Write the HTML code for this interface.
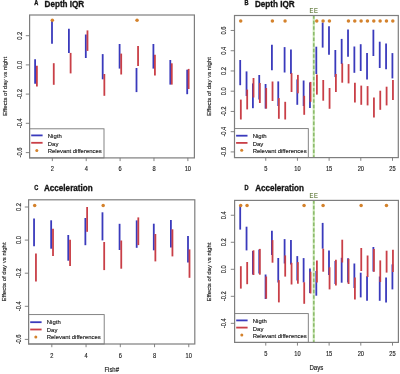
<!DOCTYPE html>
<html><head><meta charset="utf-8"><title>Figure</title>
<style>
html,body{margin:0;padding:0;background:#fff;}
body{width:400px;height:374px;overflow:hidden;}
svg{display:block;font-family:"Liberation Sans", sans-serif;filter:blur(0.3px);}
</style></head>
<body>
<svg width="400" height="374" viewBox="0 0 400 374">
<rect x="0" y="0" width="400" height="374" fill="#fff"/>
<line x1="35.10" y1="59.20" x2="35.10" y2="83.80" stroke="#3a3abc" stroke-width="1.8"/>
<line x1="36.90" y1="65.80" x2="36.90" y2="86.40" stroke="#c93f47" stroke-width="1.8"/>
<line x1="52.00" y1="21.00" x2="52.00" y2="43.80" stroke="#3a3abc" stroke-width="1.8"/>
<line x1="53.76" y1="63.20" x2="53.76" y2="84.80" stroke="#c93f47" stroke-width="1.8"/>
<line x1="68.90" y1="28.70" x2="68.90" y2="52.90" stroke="#3a3abc" stroke-width="1.8"/>
<line x1="70.62" y1="52.90" x2="70.62" y2="73.40" stroke="#c93f47" stroke-width="1.8"/>
<line x1="85.80" y1="34.50" x2="85.80" y2="58.00" stroke="#3a3abc" stroke-width="1.8"/>
<line x1="87.48" y1="30.40" x2="87.48" y2="50.90" stroke="#c93f47" stroke-width="1.8"/>
<line x1="102.70" y1="54.10" x2="102.70" y2="79.30" stroke="#3a3abc" stroke-width="1.8"/>
<line x1="104.34" y1="74.00" x2="104.34" y2="95.80" stroke="#c93f47" stroke-width="1.8"/>
<line x1="119.60" y1="44.00" x2="119.60" y2="68.60" stroke="#3a3abc" stroke-width="1.8"/>
<line x1="121.20" y1="53.60" x2="121.20" y2="74.50" stroke="#c93f47" stroke-width="1.8"/>
<line x1="136.50" y1="68.00" x2="136.50" y2="92.10" stroke="#3a3abc" stroke-width="1.8"/>
<line x1="138.06" y1="46.00" x2="138.06" y2="66.00" stroke="#c93f47" stroke-width="1.8"/>
<line x1="153.40" y1="44.00" x2="153.40" y2="68.60" stroke="#3a3abc" stroke-width="1.8"/>
<line x1="154.92" y1="54.80" x2="154.92" y2="75.60" stroke="#c93f47" stroke-width="1.8"/>
<line x1="170.30" y1="60.00" x2="170.30" y2="84.60" stroke="#3a3abc" stroke-width="1.8"/>
<line x1="171.78" y1="63.30" x2="171.78" y2="84.60" stroke="#c93f47" stroke-width="1.8"/>
<line x1="187.20" y1="69.70" x2="187.20" y2="94.20" stroke="#3a3abc" stroke-width="1.8"/>
<line x1="188.64" y1="68.90" x2="188.64" y2="89.00" stroke="#c93f47" stroke-width="1.8"/>
<circle cx="52.34" cy="20.20" r="1.75" fill="#d4822c"/>
<circle cx="137.04" cy="20.20" r="1.75" fill="#d4822c"/>
<rect x="29.60" y="128.80" width="74.40" height="29.10" fill="#fff" stroke="#777" stroke-width="0.9"/>
<line x1="31.20" y1="135.40" x2="42.60" y2="135.40" stroke="#3a3abc" stroke-width="1.8"/>
<line x1="31.20" y1="142.80" x2="42.60" y2="142.80" stroke="#c93f47" stroke-width="1.8"/>
<circle cx="36.80" cy="150.60" r="1.5" fill="#d4822c"/>
<text transform="translate(47.80 138.20) scale(0.97 1)" font-size="6.15" text-anchor="start" font-weight="normal" fill="#1a1a1a" stroke="#1a1a1a" stroke-width="0.15">Nigth</text>
<text transform="translate(47.80 145.70) scale(0.97 1)" font-size="6.15" text-anchor="start" font-weight="normal" fill="#1a1a1a" stroke="#1a1a1a" stroke-width="0.15">Day</text>
<text transform="translate(47.80 153.20) scale(0.965 1)" font-size="6.15" text-anchor="start" font-weight="normal" fill="#1a1a1a" stroke="#1a1a1a" stroke-width="0.15">Relevant differences</text>
<rect x="29.60" y="15.00" width="164.80" height="142.90" fill="none" stroke="#7e7e7e" stroke-width="1.2"/>
<line x1="25.80" y1="35.70" x2="29.60" y2="35.70" stroke="#777" stroke-width="0.9"/>
<text transform="translate(21.60 35.70) rotate(-90) scale(0.87 1)" font-size="6.6" text-anchor="middle" font-weight="normal" fill="#1a1a1a" stroke="#1a1a1a" stroke-width="0.15">0.2</text>
<line x1="25.80" y1="64.90" x2="29.60" y2="64.90" stroke="#777" stroke-width="0.9"/>
<text transform="translate(21.60 64.90) rotate(-90) scale(0.87 1)" font-size="6.6" text-anchor="middle" font-weight="normal" fill="#1a1a1a" stroke="#1a1a1a" stroke-width="0.15">0.0</text>
<line x1="25.80" y1="94.10" x2="29.60" y2="94.10" stroke="#777" stroke-width="0.9"/>
<text transform="translate(21.60 94.10) rotate(-90) scale(0.87 1)" font-size="6.6" text-anchor="middle" font-weight="normal" fill="#1a1a1a" stroke="#1a1a1a" stroke-width="0.15">-0.2</text>
<line x1="25.80" y1="123.30" x2="29.60" y2="123.30" stroke="#777" stroke-width="0.9"/>
<text transform="translate(21.60 123.30) rotate(-90) scale(0.87 1)" font-size="6.6" text-anchor="middle" font-weight="normal" fill="#1a1a1a" stroke="#1a1a1a" stroke-width="0.15">-0.4</text>
<line x1="25.80" y1="152.60" x2="29.60" y2="152.60" stroke="#777" stroke-width="0.9"/>
<text transform="translate(21.60 152.60) rotate(-90) scale(0.87 1)" font-size="6.6" text-anchor="middle" font-weight="normal" fill="#1a1a1a" stroke="#1a1a1a" stroke-width="0.15">-0.6</text>
<line x1="52.34" y1="157.90" x2="52.34" y2="161.10" stroke="#777" stroke-width="0.9"/>
<text transform="translate(52.34 171.00) scale(0.84 1)" font-size="6.8" text-anchor="middle" font-weight="normal" fill="#1a1a1a" stroke="#1a1a1a" stroke-width="0.15">2</text>
<line x1="86.22" y1="157.90" x2="86.22" y2="161.10" stroke="#777" stroke-width="0.9"/>
<text transform="translate(86.22 171.00) scale(0.84 1)" font-size="6.8" text-anchor="middle" font-weight="normal" fill="#1a1a1a" stroke="#1a1a1a" stroke-width="0.15">4</text>
<line x1="120.10" y1="157.90" x2="120.10" y2="161.10" stroke="#777" stroke-width="0.9"/>
<text transform="translate(120.10 171.00) scale(0.84 1)" font-size="6.8" text-anchor="middle" font-weight="normal" fill="#1a1a1a" stroke="#1a1a1a" stroke-width="0.15">6</text>
<line x1="153.98" y1="157.90" x2="153.98" y2="161.10" stroke="#777" stroke-width="0.9"/>
<text transform="translate(153.98 171.00) scale(0.84 1)" font-size="6.8" text-anchor="middle" font-weight="normal" fill="#1a1a1a" stroke="#1a1a1a" stroke-width="0.15">8</text>
<line x1="187.86" y1="157.90" x2="187.86" y2="161.10" stroke="#777" stroke-width="0.9"/>
<text transform="translate(187.86 171.00) scale(0.84 1)" font-size="6.8" text-anchor="middle" font-weight="normal" fill="#1a1a1a" stroke="#1a1a1a" stroke-width="0.15">10</text>
<text transform="translate(6.60 86.45) rotate(-90)" font-size="6.05" text-anchor="middle" font-weight="normal" fill="#1a1a1a" stroke="#1a1a1a" stroke-width="0.15">Effects of day vs night</text>
<text transform="translate(34.20 4.80) scale(0.85 1)" font-size="6.6" text-anchor="start" font-weight="bold" fill="#111" stroke="#111" stroke-width="0.3">A</text>
<text transform="translate(44.60 6.70) scale(0.955 1)" font-size="8.5" text-anchor="start" font-weight="bold" fill="#111" stroke="#111" stroke-width="0.3">Depth IQR</text>
<line x1="240.20" y1="60.00" x2="240.20" y2="85.20" stroke="#3a3abc" stroke-width="1.8"/>
<line x1="240.84" y1="99.60" x2="240.84" y2="119.50" stroke="#c93f47" stroke-width="1.8"/>
<line x1="246.54" y1="71.40" x2="246.54" y2="96.00" stroke="#3a3abc" stroke-width="1.8"/>
<line x1="247.18" y1="89.60" x2="247.18" y2="109.40" stroke="#c93f47" stroke-width="1.8"/>
<line x1="252.89" y1="83.40" x2="252.89" y2="108.20" stroke="#3a3abc" stroke-width="1.8"/>
<line x1="253.51" y1="78.00" x2="253.51" y2="97.50" stroke="#c93f47" stroke-width="1.8"/>
<line x1="259.23" y1="75.00" x2="259.23" y2="99.50" stroke="#3a3abc" stroke-width="1.8"/>
<line x1="259.85" y1="83.00" x2="259.85" y2="103.00" stroke="#c93f47" stroke-width="1.8"/>
<line x1="265.57" y1="84.00" x2="265.57" y2="108.60" stroke="#3a3abc" stroke-width="1.8"/>
<line x1="266.19" y1="88.00" x2="266.19" y2="108.60" stroke="#c93f47" stroke-width="1.8"/>
<line x1="271.91" y1="44.70" x2="271.91" y2="70.30" stroke="#3a3abc" stroke-width="1.8"/>
<line x1="272.52" y1="81.50" x2="272.52" y2="101.00" stroke="#c93f47" stroke-width="1.8"/>
<line x1="278.25" y1="81.40" x2="278.25" y2="106.00" stroke="#3a3abc" stroke-width="1.8"/>
<line x1="278.86" y1="98.10" x2="278.86" y2="118.80" stroke="#c93f47" stroke-width="1.8"/>
<line x1="284.60" y1="47.10" x2="284.60" y2="72.50" stroke="#3a3abc" stroke-width="1.8"/>
<line x1="285.20" y1="101.80" x2="285.20" y2="119.50" stroke="#c93f47" stroke-width="1.8"/>
<line x1="290.94" y1="49.40" x2="290.94" y2="74.00" stroke="#3a3abc" stroke-width="1.8"/>
<line x1="291.54" y1="73.10" x2="291.54" y2="92.00" stroke="#c93f47" stroke-width="1.8"/>
<line x1="297.28" y1="79.40" x2="297.28" y2="104.80" stroke="#3a3abc" stroke-width="1.8"/>
<line x1="297.88" y1="74.90" x2="297.88" y2="93.30" stroke="#c93f47" stroke-width="1.8"/>
<line x1="303.62" y1="80.50" x2="303.62" y2="106.00" stroke="#3a3abc" stroke-width="1.8"/>
<line x1="304.21" y1="95.80" x2="304.21" y2="114.80" stroke="#c93f47" stroke-width="1.8"/>
<line x1="309.96" y1="82.50" x2="309.96" y2="108.00" stroke="#3a3abc" stroke-width="1.8"/>
<line x1="310.55" y1="81.90" x2="310.55" y2="101.80" stroke="#c93f47" stroke-width="1.8"/>
<line x1="316.31" y1="46.70" x2="316.31" y2="74.00" stroke="#3a3abc" stroke-width="1.8"/>
<line x1="316.89" y1="74.50" x2="316.89" y2="94.60" stroke="#c93f47" stroke-width="1.8"/>
<line x1="322.65" y1="22.50" x2="322.65" y2="47.60" stroke="#3a3abc" stroke-width="1.8"/>
<line x1="323.23" y1="80.00" x2="323.23" y2="100.70" stroke="#c93f47" stroke-width="1.8"/>
<line x1="328.99" y1="26.30" x2="328.99" y2="54.70" stroke="#3a3abc" stroke-width="1.8"/>
<line x1="329.56" y1="88.00" x2="329.56" y2="108.80" stroke="#c93f47" stroke-width="1.8"/>
<line x1="335.33" y1="50.00" x2="335.33" y2="77.00" stroke="#3a3abc" stroke-width="1.8"/>
<line x1="335.90" y1="74.00" x2="335.90" y2="92.00" stroke="#c93f47" stroke-width="1.8"/>
<line x1="341.67" y1="38.90" x2="341.67" y2="64.00" stroke="#3a3abc" stroke-width="1.8"/>
<line x1="342.24" y1="63.40" x2="342.24" y2="82.70" stroke="#c93f47" stroke-width="1.8"/>
<line x1="348.02" y1="29.40" x2="348.02" y2="56.70" stroke="#3a3abc" stroke-width="1.8"/>
<line x1="348.57" y1="64.10" x2="348.57" y2="83.40" stroke="#c93f47" stroke-width="1.8"/>
<line x1="354.36" y1="46.50" x2="354.36" y2="72.80" stroke="#3a3abc" stroke-width="1.8"/>
<line x1="354.91" y1="82.70" x2="354.91" y2="102.60" stroke="#c93f47" stroke-width="1.8"/>
<line x1="360.70" y1="44.20" x2="360.70" y2="71.00" stroke="#3a3abc" stroke-width="1.8"/>
<line x1="361.25" y1="85.60" x2="361.25" y2="104.80" stroke="#c93f47" stroke-width="1.8"/>
<line x1="367.04" y1="53.10" x2="367.04" y2="79.40" stroke="#3a3abc" stroke-width="1.8"/>
<line x1="367.59" y1="86.10" x2="367.59" y2="105.40" stroke="#c93f47" stroke-width="1.8"/>
<line x1="373.38" y1="29.70" x2="373.38" y2="56.00" stroke="#3a3abc" stroke-width="1.8"/>
<line x1="373.93" y1="97.40" x2="373.93" y2="117.40" stroke="#c93f47" stroke-width="1.8"/>
<line x1="379.73" y1="41.70" x2="379.73" y2="68.00" stroke="#3a3abc" stroke-width="1.8"/>
<line x1="380.26" y1="90.70" x2="380.26" y2="109.80" stroke="#c93f47" stroke-width="1.8"/>
<line x1="386.07" y1="43.40" x2="386.07" y2="69.20" stroke="#3a3abc" stroke-width="1.8"/>
<line x1="386.60" y1="86.70" x2="386.60" y2="105.40" stroke="#c93f47" stroke-width="1.8"/>
<line x1="392.41" y1="53.10" x2="392.41" y2="78.40" stroke="#3a3abc" stroke-width="1.8"/>
<line x1="392.94" y1="80.00" x2="392.94" y2="100.00" stroke="#c93f47" stroke-width="1.8"/>
<circle cx="240.70" cy="20.90" r="1.75" fill="#d4822c"/>
<circle cx="272.39" cy="20.90" r="1.75" fill="#d4822c"/>
<circle cx="285.06" cy="20.90" r="1.75" fill="#d4822c"/>
<circle cx="316.75" cy="20.90" r="1.75" fill="#d4822c"/>
<circle cx="323.09" cy="20.90" r="1.75" fill="#d4822c"/>
<circle cx="329.42" cy="20.90" r="1.75" fill="#d4822c"/>
<circle cx="348.44" cy="20.90" r="1.75" fill="#d4822c"/>
<circle cx="354.77" cy="20.90" r="1.75" fill="#d4822c"/>
<circle cx="361.11" cy="20.90" r="1.75" fill="#d4822c"/>
<circle cx="367.45" cy="20.90" r="1.75" fill="#d4822c"/>
<circle cx="373.79" cy="20.90" r="1.75" fill="#d4822c"/>
<circle cx="380.12" cy="20.90" r="1.75" fill="#d4822c"/>
<circle cx="386.46" cy="20.90" r="1.75" fill="#d4822c"/>
<circle cx="392.80" cy="20.90" r="1.75" fill="#d4822c"/>
<rect x="234.50" y="128.60" width="73.80" height="29.00" fill="#fff" stroke="#777" stroke-width="0.9"/>
<line x1="236.10" y1="135.70" x2="247.50" y2="135.70" stroke="#3a3abc" stroke-width="1.8"/>
<line x1="236.10" y1="142.90" x2="247.50" y2="142.90" stroke="#c93f47" stroke-width="1.8"/>
<circle cx="241.70" cy="150.30" r="1.5" fill="#d4822c"/>
<text transform="translate(252.70 138.00) scale(0.97 1)" font-size="6.15" text-anchor="start" font-weight="normal" fill="#1a1a1a" stroke="#1a1a1a" stroke-width="0.15">Nigth</text>
<text transform="translate(252.70 145.50) scale(0.97 1)" font-size="6.15" text-anchor="start" font-weight="normal" fill="#1a1a1a" stroke="#1a1a1a" stroke-width="0.15">Day</text>
<text transform="translate(252.70 153.00) scale(0.965 1)" font-size="6.15" text-anchor="start" font-weight="normal" fill="#1a1a1a" stroke="#1a1a1a" stroke-width="0.15">Relevant differences</text>
<line x1="313.75" y1="15.60" x2="313.75" y2="157.60" stroke="#cde9b9" stroke-width="2.2"/>
<line x1="313.75" y1="15.60" x2="313.75" y2="157.60" stroke="#8dbb6c" stroke-width="1.6" stroke-dasharray="3.5,2.1" stroke-dashoffset="0.45"/>
<rect x="234.50" y="15.50" width="163.80" height="142.10" fill="none" stroke="#7e7e7e" stroke-width="1.2"/>
<line x1="230.70" y1="30.48" x2="234.50" y2="30.48" stroke="#777" stroke-width="0.9"/>
<text transform="translate(226.20 30.48) rotate(-90) scale(0.87 1)" font-size="6.6" text-anchor="middle" font-weight="normal" fill="#1a1a1a" stroke="#1a1a1a" stroke-width="0.15">0.6</text>
<line x1="230.70" y1="50.72" x2="234.50" y2="50.72" stroke="#777" stroke-width="0.9"/>
<text transform="translate(226.20 50.72) rotate(-90) scale(0.87 1)" font-size="6.6" text-anchor="middle" font-weight="normal" fill="#1a1a1a" stroke="#1a1a1a" stroke-width="0.15">0.4</text>
<line x1="230.70" y1="70.96" x2="234.50" y2="70.96" stroke="#777" stroke-width="0.9"/>
<text transform="translate(226.20 70.96) rotate(-90) scale(0.87 1)" font-size="6.6" text-anchor="middle" font-weight="normal" fill="#1a1a1a" stroke="#1a1a1a" stroke-width="0.15">0.2</text>
<line x1="230.70" y1="91.20" x2="234.50" y2="91.20" stroke="#777" stroke-width="0.9"/>
<text transform="translate(226.20 91.20) rotate(-90) scale(0.87 1)" font-size="6.6" text-anchor="middle" font-weight="normal" fill="#1a1a1a" stroke="#1a1a1a" stroke-width="0.15">0.0</text>
<line x1="230.70" y1="111.44" x2="234.50" y2="111.44" stroke="#777" stroke-width="0.9"/>
<text transform="translate(226.20 111.44) rotate(-90) scale(0.87 1)" font-size="6.6" text-anchor="middle" font-weight="normal" fill="#1a1a1a" stroke="#1a1a1a" stroke-width="0.15">-0.2</text>
<line x1="230.70" y1="131.68" x2="234.50" y2="131.68" stroke="#777" stroke-width="0.9"/>
<text transform="translate(226.20 131.68) rotate(-90) scale(0.87 1)" font-size="6.6" text-anchor="middle" font-weight="normal" fill="#1a1a1a" stroke="#1a1a1a" stroke-width="0.15">-0.4</text>
<line x1="230.70" y1="151.92" x2="234.50" y2="151.92" stroke="#777" stroke-width="0.9"/>
<text transform="translate(226.20 151.92) rotate(-90) scale(0.87 1)" font-size="6.6" text-anchor="middle" font-weight="normal" fill="#1a1a1a" stroke="#1a1a1a" stroke-width="0.15">-0.6</text>
<line x1="265.75" y1="157.60" x2="265.75" y2="160.80" stroke="#777" stroke-width="0.9"/>
<text transform="translate(265.75 171.00) scale(0.84 1)" font-size="6.8" text-anchor="middle" font-weight="normal" fill="#1a1a1a" stroke="#1a1a1a" stroke-width="0.15">5</text>
<line x1="297.44" y1="157.60" x2="297.44" y2="160.80" stroke="#777" stroke-width="0.9"/>
<text transform="translate(297.44 171.00) scale(0.84 1)" font-size="6.8" text-anchor="middle" font-weight="normal" fill="#1a1a1a" stroke="#1a1a1a" stroke-width="0.15">10</text>
<line x1="329.12" y1="157.60" x2="329.12" y2="160.80" stroke="#777" stroke-width="0.9"/>
<text transform="translate(329.12 171.00) scale(0.84 1)" font-size="6.8" text-anchor="middle" font-weight="normal" fill="#1a1a1a" stroke="#1a1a1a" stroke-width="0.15">15</text>
<line x1="360.81" y1="157.60" x2="360.81" y2="160.80" stroke="#777" stroke-width="0.9"/>
<text transform="translate(360.81 171.00) scale(0.84 1)" font-size="6.8" text-anchor="middle" font-weight="normal" fill="#1a1a1a" stroke="#1a1a1a" stroke-width="0.15">20</text>
<line x1="392.50" y1="157.60" x2="392.50" y2="160.80" stroke="#777" stroke-width="0.9"/>
<text transform="translate(392.50 171.00) scale(0.84 1)" font-size="6.8" text-anchor="middle" font-weight="normal" fill="#1a1a1a" stroke="#1a1a1a" stroke-width="0.15">25</text>
<text transform="translate(211.10 86.55) rotate(-90)" font-size="6.05" text-anchor="middle" font-weight="normal" fill="#1a1a1a" stroke="#1a1a1a" stroke-width="0.15">Effects of day vs night</text>
<text transform="translate(244.40 4.70) scale(0.85 1)" font-size="6.6" text-anchor="start" font-weight="bold" fill="#111" stroke="#111" stroke-width="0.3">B</text>
<text transform="translate(255.00 6.90) scale(0.955 1)" font-size="8.5" text-anchor="start" font-weight="bold" fill="#111" stroke="#111" stroke-width="0.3">Depth IQR</text>
<text transform="translate(314.10 12.60) scale(0.8 1)" font-size="7.2" text-anchor="middle" font-weight="normal" fill="#5a7434" stroke="#5a7434" stroke-width="0.15" letter-spacing="0.9">EE</text>
<line x1="34.05" y1="218.40" x2="34.05" y2="246.30" stroke="#3a3abc" stroke-width="1.8"/>
<line x1="35.95" y1="253.60" x2="35.95" y2="281.40" stroke="#c93f47" stroke-width="1.8"/>
<line x1="51.16" y1="220.30" x2="51.16" y2="248.70" stroke="#3a3abc" stroke-width="1.8"/>
<line x1="53.01" y1="228.70" x2="53.01" y2="256.00" stroke="#c93f47" stroke-width="1.8"/>
<line x1="68.26" y1="235.00" x2="68.26" y2="260.70" stroke="#3a3abc" stroke-width="1.8"/>
<line x1="70.07" y1="239.80" x2="70.07" y2="266.00" stroke="#c93f47" stroke-width="1.8"/>
<line x1="85.37" y1="218.00" x2="85.37" y2="245.20" stroke="#3a3abc" stroke-width="1.8"/>
<line x1="87.13" y1="207.00" x2="87.13" y2="231.80" stroke="#c93f47" stroke-width="1.8"/>
<line x1="102.47" y1="212.30" x2="102.47" y2="240.40" stroke="#3a3abc" stroke-width="1.8"/>
<line x1="104.19" y1="242.00" x2="104.19" y2="270.10" stroke="#c93f47" stroke-width="1.8"/>
<line x1="119.58" y1="223.80" x2="119.58" y2="250.00" stroke="#3a3abc" stroke-width="1.8"/>
<line x1="121.25" y1="240.50" x2="121.25" y2="268.70" stroke="#c93f47" stroke-width="1.8"/>
<line x1="136.69" y1="220.40" x2="136.69" y2="247.80" stroke="#3a3abc" stroke-width="1.8"/>
<line x1="138.31" y1="217.40" x2="138.31" y2="245.10" stroke="#c93f47" stroke-width="1.8"/>
<line x1="153.79" y1="223.70" x2="153.79" y2="250.30" stroke="#3a3abc" stroke-width="1.8"/>
<line x1="155.37" y1="234.00" x2="155.37" y2="261.40" stroke="#c93f47" stroke-width="1.8"/>
<line x1="170.90" y1="220.00" x2="170.90" y2="247.60" stroke="#3a3abc" stroke-width="1.8"/>
<line x1="172.43" y1="229.30" x2="172.43" y2="256.40" stroke="#c93f47" stroke-width="1.8"/>
<line x1="188.00" y1="236.00" x2="188.00" y2="262.50" stroke="#3a3abc" stroke-width="1.8"/>
<line x1="189.49" y1="249.40" x2="189.49" y2="277.80" stroke="#c93f47" stroke-width="1.8"/>
<circle cx="34.70" cy="205.50" r="1.75" fill="#d4822c"/>
<circle cx="103.18" cy="205.50" r="1.75" fill="#d4822c"/>
<rect x="28.60" y="314.60" width="75.60" height="29.40" fill="#fff" stroke="#777" stroke-width="0.9"/>
<line x1="30.20" y1="322.20" x2="41.60" y2="322.20" stroke="#3a3abc" stroke-width="1.8"/>
<line x1="30.20" y1="329.50" x2="41.60" y2="329.50" stroke="#c93f47" stroke-width="1.8"/>
<circle cx="35.80" cy="337.00" r="1.5" fill="#d4822c"/>
<text transform="translate(46.80 324.00) scale(0.97 1)" font-size="6.15" text-anchor="start" font-weight="normal" fill="#1a1a1a" stroke="#1a1a1a" stroke-width="0.15">Nigth</text>
<text transform="translate(46.80 331.50) scale(0.97 1)" font-size="6.15" text-anchor="start" font-weight="normal" fill="#1a1a1a" stroke="#1a1a1a" stroke-width="0.15">Day</text>
<text transform="translate(46.80 339.00) scale(0.965 1)" font-size="6.15" text-anchor="start" font-weight="normal" fill="#1a1a1a" stroke="#1a1a1a" stroke-width="0.15">Relevant differences</text>
<rect x="28.60" y="199.80" width="166.20" height="144.20" fill="none" stroke="#7e7e7e" stroke-width="1.2"/>
<line x1="24.80" y1="207.00" x2="28.60" y2="207.00" stroke="#777" stroke-width="0.9"/>
<text transform="translate(20.60 207.00) rotate(-90) scale(0.87 1)" font-size="6.6" text-anchor="middle" font-weight="normal" fill="#1a1a1a" stroke="#1a1a1a" stroke-width="0.15">0.2</text>
<line x1="24.80" y1="240.10" x2="28.60" y2="240.10" stroke="#777" stroke-width="0.9"/>
<text transform="translate(20.60 240.10) rotate(-90) scale(0.87 1)" font-size="6.6" text-anchor="middle" font-weight="normal" fill="#1a1a1a" stroke="#1a1a1a" stroke-width="0.15">0.0</text>
<line x1="24.80" y1="273.20" x2="28.60" y2="273.20" stroke="#777" stroke-width="0.9"/>
<text transform="translate(20.60 273.20) rotate(-90) scale(0.87 1)" font-size="6.6" text-anchor="middle" font-weight="normal" fill="#1a1a1a" stroke="#1a1a1a" stroke-width="0.15">-0.2</text>
<line x1="24.80" y1="306.30" x2="28.60" y2="306.30" stroke="#777" stroke-width="0.9"/>
<text transform="translate(20.60 306.30) rotate(-90) scale(0.87 1)" font-size="6.6" text-anchor="middle" font-weight="normal" fill="#1a1a1a" stroke="#1a1a1a" stroke-width="0.15">-0.4</text>
<line x1="24.80" y1="339.40" x2="28.60" y2="339.40" stroke="#777" stroke-width="0.9"/>
<text transform="translate(20.60 339.40) rotate(-90) scale(0.87 1)" font-size="6.6" text-anchor="middle" font-weight="normal" fill="#1a1a1a" stroke="#1a1a1a" stroke-width="0.15">-0.6</text>
<line x1="51.82" y1="344.00" x2="51.82" y2="347.20" stroke="#777" stroke-width="0.9"/>
<text transform="translate(51.82 357.60) scale(0.84 1)" font-size="6.8" text-anchor="middle" font-weight="normal" fill="#1a1a1a" stroke="#1a1a1a" stroke-width="0.15">2</text>
<line x1="86.06" y1="344.00" x2="86.06" y2="347.20" stroke="#777" stroke-width="0.9"/>
<text transform="translate(86.06 357.60) scale(0.84 1)" font-size="6.8" text-anchor="middle" font-weight="normal" fill="#1a1a1a" stroke="#1a1a1a" stroke-width="0.15">4</text>
<line x1="120.30" y1="344.00" x2="120.30" y2="347.20" stroke="#777" stroke-width="0.9"/>
<text transform="translate(120.30 357.60) scale(0.84 1)" font-size="6.8" text-anchor="middle" font-weight="normal" fill="#1a1a1a" stroke="#1a1a1a" stroke-width="0.15">6</text>
<line x1="154.54" y1="344.00" x2="154.54" y2="347.20" stroke="#777" stroke-width="0.9"/>
<text transform="translate(154.54 357.60) scale(0.84 1)" font-size="6.8" text-anchor="middle" font-weight="normal" fill="#1a1a1a" stroke="#1a1a1a" stroke-width="0.15">8</text>
<line x1="188.78" y1="344.00" x2="188.78" y2="347.20" stroke="#777" stroke-width="0.9"/>
<text transform="translate(188.78 357.60) scale(0.84 1)" font-size="6.8" text-anchor="middle" font-weight="normal" fill="#1a1a1a" stroke="#1a1a1a" stroke-width="0.15">10</text>
<text transform="translate(5.90 271.90) rotate(-90)" font-size="6.05" text-anchor="middle" font-weight="normal" fill="#1a1a1a" stroke="#1a1a1a" stroke-width="0.15">Effects of day vs night</text>
<text transform="translate(34.20 189.60) scale(0.85 1)" font-size="6.6" text-anchor="start" font-weight="bold" fill="#111" stroke="#111" stroke-width="0.3">C</text>
<text transform="translate(44.00 191.00) scale(0.955 1)" font-size="8.5" text-anchor="start" font-weight="bold" fill="#111" stroke="#111" stroke-width="0.3">Acceleration</text>
<text transform="translate(111.70 372.40) scale(0.95 1)" font-size="6.3" text-anchor="middle" font-weight="normal" fill="#1a1a1a" stroke="#1a1a1a" stroke-width="0.15">Fish#</text>
<line x1="240.20" y1="205.60" x2="240.20" y2="229.60" stroke="#3a3abc" stroke-width="1.8"/>
<line x1="240.84" y1="266.20" x2="240.84" y2="288.60" stroke="#c93f47" stroke-width="1.8"/>
<line x1="246.54" y1="226.70" x2="246.54" y2="250.40" stroke="#3a3abc" stroke-width="1.8"/>
<line x1="247.18" y1="262.00" x2="247.18" y2="284.20" stroke="#c93f47" stroke-width="1.8"/>
<line x1="252.89" y1="251.00" x2="252.89" y2="274.50" stroke="#3a3abc" stroke-width="1.8"/>
<line x1="253.51" y1="250.30" x2="253.51" y2="275.00" stroke="#c93f47" stroke-width="1.8"/>
<line x1="259.23" y1="249.60" x2="259.23" y2="273.50" stroke="#3a3abc" stroke-width="1.8"/>
<line x1="259.85" y1="248.90" x2="259.85" y2="274.70" stroke="#c93f47" stroke-width="1.8"/>
<line x1="265.57" y1="274.50" x2="265.57" y2="299.00" stroke="#3a3abc" stroke-width="1.8"/>
<line x1="266.19" y1="276.50" x2="266.19" y2="298.70" stroke="#c93f47" stroke-width="1.8"/>
<line x1="271.91" y1="230.70" x2="271.91" y2="255.00" stroke="#3a3abc" stroke-width="1.8"/>
<line x1="272.52" y1="240.10" x2="272.52" y2="262.70" stroke="#c93f47" stroke-width="1.8"/>
<line x1="278.25" y1="258.00" x2="278.25" y2="282.50" stroke="#3a3abc" stroke-width="1.8"/>
<line x1="278.86" y1="280.10" x2="278.86" y2="302.40" stroke="#c93f47" stroke-width="1.8"/>
<line x1="284.60" y1="239.10" x2="284.60" y2="263.50" stroke="#3a3abc" stroke-width="1.8"/>
<line x1="285.20" y1="255.40" x2="285.20" y2="276.60" stroke="#c93f47" stroke-width="1.8"/>
<line x1="290.94" y1="240.00" x2="290.94" y2="264.50" stroke="#3a3abc" stroke-width="1.8"/>
<line x1="291.54" y1="262.80" x2="291.54" y2="284.50" stroke="#c93f47" stroke-width="1.8"/>
<line x1="297.28" y1="256.10" x2="297.28" y2="280.50" stroke="#3a3abc" stroke-width="1.8"/>
<line x1="297.88" y1="262.10" x2="297.88" y2="283.70" stroke="#c93f47" stroke-width="1.8"/>
<line x1="303.62" y1="258.10" x2="303.62" y2="282.40" stroke="#3a3abc" stroke-width="1.8"/>
<line x1="304.21" y1="282.20" x2="304.21" y2="303.80" stroke="#c93f47" stroke-width="1.8"/>
<line x1="309.96" y1="268.50" x2="309.96" y2="293.00" stroke="#3a3abc" stroke-width="1.8"/>
<line x1="310.55" y1="271.70" x2="310.55" y2="293.50" stroke="#c93f47" stroke-width="1.8"/>
<line x1="316.31" y1="271.00" x2="316.31" y2="295.70" stroke="#3a3abc" stroke-width="1.8"/>
<line x1="316.89" y1="260.50" x2="316.89" y2="282.50" stroke="#c93f47" stroke-width="1.8"/>
<line x1="322.65" y1="222.90" x2="322.65" y2="248.70" stroke="#3a3abc" stroke-width="1.8"/>
<line x1="323.23" y1="248.70" x2="323.23" y2="271.70" stroke="#c93f47" stroke-width="1.8"/>
<line x1="328.99" y1="250.60" x2="328.99" y2="275.00" stroke="#3a3abc" stroke-width="1.8"/>
<line x1="329.56" y1="267.30" x2="329.56" y2="289.40" stroke="#c93f47" stroke-width="1.8"/>
<line x1="335.33" y1="261.00" x2="335.33" y2="284.00" stroke="#3a3abc" stroke-width="1.8"/>
<line x1="335.90" y1="259.70" x2="335.90" y2="285.50" stroke="#c93f47" stroke-width="1.8"/>
<line x1="341.67" y1="257.80" x2="341.67" y2="282.70" stroke="#3a3abc" stroke-width="1.8"/>
<line x1="342.24" y1="239.70" x2="342.24" y2="262.50" stroke="#c93f47" stroke-width="1.8"/>
<line x1="348.02" y1="258.20" x2="348.02" y2="282.50" stroke="#3a3abc" stroke-width="1.8"/>
<line x1="348.57" y1="258.80" x2="348.57" y2="284.00" stroke="#c93f47" stroke-width="1.8"/>
<line x1="354.36" y1="263.50" x2="354.36" y2="288.00" stroke="#3a3abc" stroke-width="1.8"/>
<line x1="354.91" y1="277.40" x2="354.91" y2="299.40" stroke="#c93f47" stroke-width="1.8"/>
<line x1="360.70" y1="272.70" x2="360.70" y2="297.40" stroke="#3a3abc" stroke-width="1.8"/>
<line x1="361.25" y1="248.00" x2="361.25" y2="271.00" stroke="#c93f47" stroke-width="1.8"/>
<line x1="367.04" y1="276.30" x2="367.04" y2="300.80" stroke="#3a3abc" stroke-width="1.8"/>
<line x1="367.59" y1="255.50" x2="367.59" y2="277.00" stroke="#c93f47" stroke-width="1.8"/>
<line x1="373.38" y1="247.00" x2="373.38" y2="271.50" stroke="#3a3abc" stroke-width="1.8"/>
<line x1="373.93" y1="249.00" x2="373.93" y2="271.80" stroke="#c93f47" stroke-width="1.8"/>
<line x1="379.73" y1="276.50" x2="379.73" y2="300.80" stroke="#3a3abc" stroke-width="1.8"/>
<line x1="380.26" y1="260.40" x2="380.26" y2="282.00" stroke="#c93f47" stroke-width="1.8"/>
<line x1="386.07" y1="277.40" x2="386.07" y2="302.50" stroke="#3a3abc" stroke-width="1.8"/>
<line x1="386.60" y1="250.70" x2="386.60" y2="272.60" stroke="#c93f47" stroke-width="1.8"/>
<line x1="392.41" y1="264.40" x2="392.41" y2="289.40" stroke="#3a3abc" stroke-width="1.8"/>
<line x1="392.94" y1="249.70" x2="392.94" y2="272.00" stroke="#c93f47" stroke-width="1.8"/>
<circle cx="240.70" cy="205.50" r="1.75" fill="#d4822c"/>
<circle cx="247.04" cy="205.50" r="1.75" fill="#d4822c"/>
<circle cx="304.07" cy="205.50" r="1.75" fill="#d4822c"/>
<circle cx="323.09" cy="205.50" r="1.75" fill="#d4822c"/>
<circle cx="361.11" cy="205.50" r="1.75" fill="#d4822c"/>
<circle cx="386.46" cy="205.50" r="1.75" fill="#d4822c"/>
<rect x="234.60" y="313.60" width="73.70" height="28.80" fill="#fff" stroke="#777" stroke-width="0.9"/>
<line x1="236.20" y1="320.40" x2="247.60" y2="320.40" stroke="#3a3abc" stroke-width="1.8"/>
<line x1="236.20" y1="327.60" x2="247.60" y2="327.60" stroke="#c93f47" stroke-width="1.8"/>
<circle cx="241.80" cy="335.00" r="1.5" fill="#d4822c"/>
<text transform="translate(252.80 323.00) scale(0.97 1)" font-size="6.15" text-anchor="start" font-weight="normal" fill="#1a1a1a" stroke="#1a1a1a" stroke-width="0.15">Nigth</text>
<text transform="translate(252.80 330.50) scale(0.97 1)" font-size="6.15" text-anchor="start" font-weight="normal" fill="#1a1a1a" stroke="#1a1a1a" stroke-width="0.15">Day</text>
<text transform="translate(252.80 338.00) scale(0.965 1)" font-size="6.15" text-anchor="start" font-weight="normal" fill="#1a1a1a" stroke="#1a1a1a" stroke-width="0.15">Relevant differences</text>
<line x1="313.75" y1="200.60" x2="313.75" y2="342.40" stroke="#cde9b9" stroke-width="2.2"/>
<line x1="313.75" y1="200.60" x2="313.75" y2="342.40" stroke="#8dbb6c" stroke-width="1.6" stroke-dasharray="3.5,2.1" stroke-dashoffset="0.45"/>
<rect x="234.60" y="200.40" width="163.80" height="142.00" fill="none" stroke="#7e7e7e" stroke-width="1.2"/>
<line x1="230.80" y1="215.26" x2="234.60" y2="215.26" stroke="#777" stroke-width="0.9"/>
<text transform="translate(226.20 215.26) rotate(-90) scale(0.87 1)" font-size="6.6" text-anchor="middle" font-weight="normal" fill="#1a1a1a" stroke="#1a1a1a" stroke-width="0.15">0.4</text>
<line x1="230.80" y1="242.28" x2="234.60" y2="242.28" stroke="#777" stroke-width="0.9"/>
<text transform="translate(226.20 242.28) rotate(-90) scale(0.87 1)" font-size="6.6" text-anchor="middle" font-weight="normal" fill="#1a1a1a" stroke="#1a1a1a" stroke-width="0.15">0.2</text>
<line x1="230.80" y1="269.30" x2="234.60" y2="269.30" stroke="#777" stroke-width="0.9"/>
<text transform="translate(226.20 269.30) rotate(-90) scale(0.87 1)" font-size="6.6" text-anchor="middle" font-weight="normal" fill="#1a1a1a" stroke="#1a1a1a" stroke-width="0.15">0.0</text>
<line x1="230.80" y1="296.32" x2="234.60" y2="296.32" stroke="#777" stroke-width="0.9"/>
<text transform="translate(226.20 296.32) rotate(-90) scale(0.87 1)" font-size="6.6" text-anchor="middle" font-weight="normal" fill="#1a1a1a" stroke="#1a1a1a" stroke-width="0.15">-0.2</text>
<line x1="230.80" y1="323.34" x2="234.60" y2="323.34" stroke="#777" stroke-width="0.9"/>
<text transform="translate(226.20 323.34) rotate(-90) scale(0.87 1)" font-size="6.6" text-anchor="middle" font-weight="normal" fill="#1a1a1a" stroke="#1a1a1a" stroke-width="0.15">-0.4</text>
<line x1="265.75" y1="342.40" x2="265.75" y2="345.60" stroke="#777" stroke-width="0.9"/>
<text transform="translate(265.75 356.00) scale(0.84 1)" font-size="6.8" text-anchor="middle" font-weight="normal" fill="#1a1a1a" stroke="#1a1a1a" stroke-width="0.15">5</text>
<line x1="297.44" y1="342.40" x2="297.44" y2="345.60" stroke="#777" stroke-width="0.9"/>
<text transform="translate(297.44 356.00) scale(0.84 1)" font-size="6.8" text-anchor="middle" font-weight="normal" fill="#1a1a1a" stroke="#1a1a1a" stroke-width="0.15">10</text>
<line x1="329.12" y1="342.40" x2="329.12" y2="345.60" stroke="#777" stroke-width="0.9"/>
<text transform="translate(329.12 356.00) scale(0.84 1)" font-size="6.8" text-anchor="middle" font-weight="normal" fill="#1a1a1a" stroke="#1a1a1a" stroke-width="0.15">15</text>
<line x1="360.81" y1="342.40" x2="360.81" y2="345.60" stroke="#777" stroke-width="0.9"/>
<text transform="translate(360.81 356.00) scale(0.84 1)" font-size="6.8" text-anchor="middle" font-weight="normal" fill="#1a1a1a" stroke="#1a1a1a" stroke-width="0.15">20</text>
<line x1="392.50" y1="342.40" x2="392.50" y2="345.60" stroke="#777" stroke-width="0.9"/>
<text transform="translate(392.50 356.00) scale(0.84 1)" font-size="6.8" text-anchor="middle" font-weight="normal" fill="#1a1a1a" stroke="#1a1a1a" stroke-width="0.15">25</text>
<text transform="translate(211.30 272.00) rotate(-90)" font-size="6.05" text-anchor="middle" font-weight="normal" fill="#1a1a1a" stroke="#1a1a1a" stroke-width="0.15">Effects of day vs night</text>
<text transform="translate(244.40 189.60) scale(0.85 1)" font-size="6.6" text-anchor="start" font-weight="bold" fill="#111" stroke="#111" stroke-width="0.3">D</text>
<text transform="translate(255.20 191.10) scale(0.955 1)" font-size="8.5" text-anchor="start" font-weight="bold" fill="#111" stroke="#111" stroke-width="0.3">Acceleration</text>
<text transform="translate(316.40 370.20) scale(0.97 1)" font-size="6.3" text-anchor="middle" font-weight="normal" fill="#1a1a1a" stroke="#1a1a1a" stroke-width="0.15">Days</text>
<text transform="translate(314.10 198.00) scale(0.8 1)" font-size="7.2" text-anchor="middle" font-weight="normal" fill="#5a7434" stroke="#5a7434" stroke-width="0.15" letter-spacing="0.9">EE</text>
</svg>
</body></html>
